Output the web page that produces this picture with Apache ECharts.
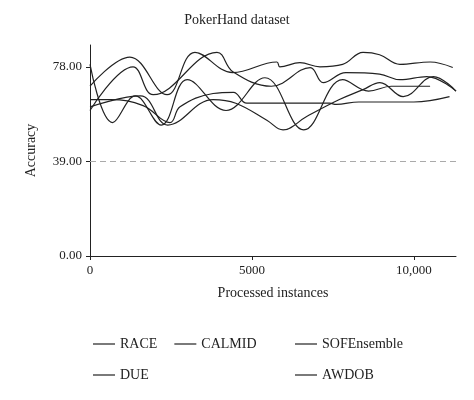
<!DOCTYPE html>
<html>
<head>
	<meta charset="utf-8">
	<title>PokerHand dataset</title>
	<script src="https://cdn.jsdelivr.net/npm/echarts@6/dist/echarts.min.js"></script>
	<style>html,body{margin:0;padding:0;background:#fff;}</style>
</head>
<body>
	<div id="main" style="width:474px;height:400px;"></div>
	<script>
		// series values: [instances, accuracy]
		var race = [[0,70],[1230,82],[2380,66.5],[3240,84],[4410,75.6],[5770,80],[5860,78],[6480,79.7],[7100,78],[7800,79],[8430,84],[8940,83],[9570,79],[10500,80],[11200,77.7]];
		var due = [[0,60],[1330,78],[1950,66.5],[3920,84],[4410,76],[5600,70],[6800,77.7],[7200,71.5],[7900,75.6],[8940,75],[9570,72.7],[10400,74],[11300,68]];
		var calmid = [[0,64.5],[640,64.5],[1640,62],[2470,55],[2780,61.5],[3800,67],[4430,67.5],[4840,63],[7400,63],[7600,62.5],[8300,63.5],[10000,63.5],[11100,65.7]];
		var sofe = [[0,79],[700,55],[1400,66],[2200,54],[3000,72.7],[4200,60],[5400,73.5],[6600,52],[7800,72.7],[8600,68],[9300,70],[10500,70]];
		var awdob = [[0,61.5],[1560,66],[2400,54],[3800,64.5],[4500,63],[5460,56],[5960,52],[6690,57.5],[7700,64.5],[8430,68.6],[8950,71.5],[9670,65.7],[10600,74],[11300,68]];
		var names = ['RACE','DUE','CALMID','SOFEnsemble','AWDOB'];
		var values = [race, due, calmid, sofe, awdob];
		var yTicks = [0, 39, 78];

		var chart = echarts.init(document.getElementById('main'));
		var font = 'Liberation Serif';
		var series = names.map(function(n, i){
			var s = {name:n,type:'line',data:values[i],smooth:0.4,symbol:'none',
				lineStyle:{color:'#222',width:1.2},itemStyle:{color:'#222'}};
			if(i==0){
				s.markLine = {silent:true,symbol:'none',label:{show:false},
					lineStyle:{color:'#aaa',type:[6,4],width:1.2},data:[{yAxis:yTicks[1]}]};
			}
			return s;
		});
		var legendStyle = {orient:'vertical',icon:'rect',itemWidth:22,itemHeight:1.2,itemGap:17,
			textStyle:{fontFamily:font,fontSize:14,color:'#222'}};
		chart.setOption({
			title:{text:'PokerHand dataset',left:'center',top:8,
				textStyle:{fontFamily:font,fontSize:14,fontWeight:'normal',color:'#222'}},
			grid:{left:90,right:18,top:45,bottom:144},
			legend:[
				Object.assign({left:88,top:332,data:names.slice(0,3)}, legendStyle),
				Object.assign({left:290,top:332,data:names.slice(3)}, legendStyle)
			],
			xAxis:{type:'value',min:0,max:11300,interval:5000,
				name:'Processed instances',nameLocation:'middle',nameGap:30,
				nameTextStyle:{fontFamily:font,fontSize:14,color:'#222'},
				axisLine:{lineStyle:{color:'#222'}},axisTick:{length:4,lineStyle:{color:'#222'}},
				axisLabel:{fontFamily:font,fontSize:13,color:'#222',showMaxLabel:false,
					formatter:function(v){return v>=10000? v.toLocaleString('en-US') : v;}},
				splitLine:{show:false}},
			yAxis:{type:'value',min:0,max:87,interval:39,
				name:'Accuracy',nameLocation:'middle',nameGap:52,
				nameTextStyle:{fontFamily:font,fontSize:14,color:'#222'},
				axisLine:{show:true,lineStyle:{color:'#222'}},axisTick:{show:true,length:4,lineStyle:{color:'#222'}},
				axisLabel:{fontFamily:font,fontSize:13,color:'#222',showMaxLabel:false,
					formatter:function(v){return v.toFixed(2);}},
				splitLine:{show:false}},
			series:series
		});
	</script>
</body>
</html>
